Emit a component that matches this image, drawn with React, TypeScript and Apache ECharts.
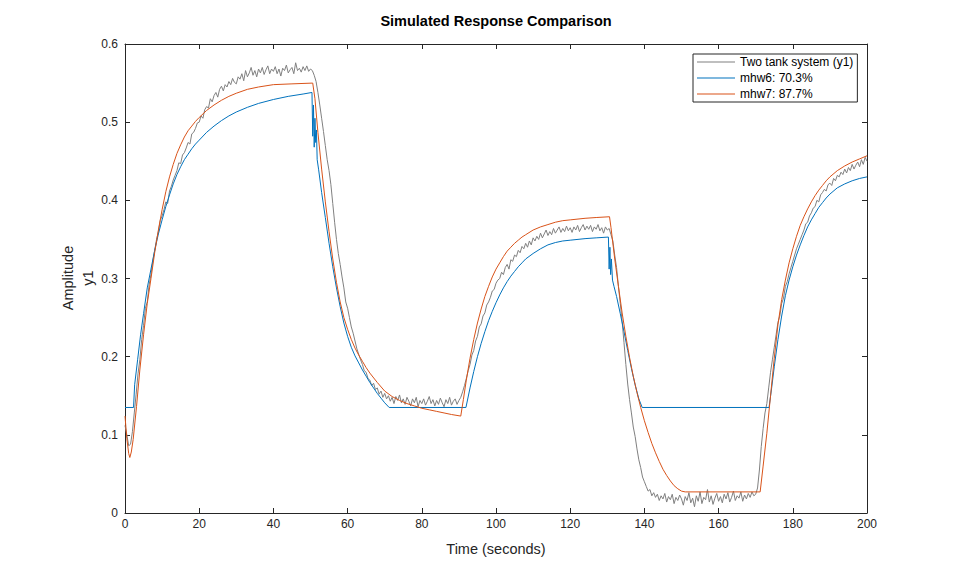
import React, { useEffect, useRef } from "react";
import * as echarts from "echarts";

const chartTitle = "Simulated Response Comparison";
const xAxisName = "Time (seconds)";
const yAxisName = "Amplitude\ny1";
const seriesNames = ["Two tank system (y1)", "mhw6: 70.3%", "mhw7: 87.7%"];
const seriesColors = ["#808080", "#0072BD", "#D95319"];
const xRange = [0, 200];
const xInterval = 20;
const yRange = [0, 0.6];
const yInterval = 0.1;

// measured output, one sample every 0.5 s from t = 0 to t = 200
const measuredStep = 0.5;
const measured = [
  0.112, 0.100, 0.086, 0.088, 0.104, 0.128, 0.152, 0.178, 0.196, 0.222, 0.240, 0.262, 0.270, 0.292, 0.305, 0.322, 0.336, 0.350, 0.360, 0.374,
  0.380, 0.388, 0.398, 0.396, 0.412, 0.418, 0.426, 0.432, 0.438, 0.448, 0.447, 0.458, 0.461, 0.467, 0.474, 0.472, 0.485, 0.487, 0.492, 0.499,
  0.500, 0.508, 0.505, 0.516, 0.520, 0.518, 0.530, 0.526, 0.534, 0.538, 0.532, 0.542, 0.546, 0.540, 0.548, 0.545, 0.552, 0.548, 0.556, 0.551,
  0.549, 0.558, 0.555, 0.562, 0.553, 0.566, 0.558, 0.563, 0.570, 0.560, 0.566, 0.558, 0.568, 0.563, 0.570, 0.561, 0.567, 0.572, 0.562, 0.568,
  0.565, 0.571, 0.562, 0.568, 0.559, 0.569, 0.566, 0.573, 0.563, 0.567, 0.570, 0.562, 0.576, 0.566, 0.569, 0.564, 0.571, 0.566, 0.572, 0.565,
  0.568, 0.566, 0.560, 0.552, 0.538, 0.522, 0.505, 0.488, 0.470, 0.452, 0.438, 0.420, 0.396, 0.372, 0.350, 0.332, 0.318, 0.302, 0.288, 0.270,
  0.262, 0.250, 0.238, 0.230, 0.220, 0.210, 0.203, 0.196, 0.190, 0.182, 0.180, 0.172, 0.170, 0.163, 0.166, 0.158, 0.160, 0.152, 0.156, 0.148,
  0.153, 0.146, 0.150, 0.143, 0.148, 0.140, 0.149, 0.144, 0.151, 0.141, 0.146, 0.139, 0.148, 0.143, 0.137, 0.146, 0.141, 0.148, 0.136, 0.144,
  0.140, 0.146, 0.138, 0.143, 0.149, 0.140, 0.145, 0.137, 0.144, 0.139, 0.147, 0.141, 0.136, 0.145, 0.140, 0.148, 0.138, 0.143, 0.146, 0.139,
  0.144, 0.148, 0.155, 0.163, 0.172, 0.182, 0.190, 0.202, 0.208, 0.220, 0.226, 0.238, 0.242, 0.252, 0.256, 0.266, 0.270, 0.276, 0.284, 0.286,
  0.294, 0.298, 0.300, 0.308, 0.305, 0.314, 0.318, 0.312, 0.324, 0.322, 0.330, 0.328, 0.336, 0.333, 0.341, 0.338, 0.345, 0.340, 0.348, 0.343,
  0.352, 0.348, 0.354, 0.350, 0.358, 0.352, 0.357, 0.362, 0.355, 0.360, 0.356, 0.364, 0.358, 0.362, 0.366, 0.359, 0.364, 0.360, 0.367, 0.361,
  0.365, 0.359, 0.366, 0.362, 0.368, 0.360, 0.365, 0.369, 0.362, 0.367, 0.363, 0.368, 0.360, 0.366, 0.363, 0.369, 0.361, 0.365, 0.358, 0.366,
  0.362, 0.364, 0.356, 0.348, 0.330, 0.314, 0.290, 0.268, 0.245, 0.218, 0.190, 0.165, 0.145, 0.128, 0.110, 0.098, 0.082, 0.068, 0.058, 0.046,
  0.040, 0.034, 0.028, 0.030, 0.022, 0.026, 0.020, 0.024, 0.016, 0.022, 0.018, 0.025, 0.014, 0.021, 0.017, 0.024, 0.012, 0.020, 0.016, 0.023,
  0.018, 0.010, 0.021, 0.016, 0.026, 0.013, 0.019, 0.008, 0.022, 0.015, 0.027, 0.012, 0.020, 0.017, 0.030, 0.014, 0.022, 0.011, 0.019, 0.025,
  0.015, 0.021, 0.013, 0.024, 0.018, 0.026, 0.014, 0.020, 0.028, 0.016, 0.022, 0.019, 0.027, 0.015, 0.023, 0.018, 0.025, 0.020, 0.027, 0.022,
  0.024, 0.032, 0.055, 0.085, 0.108, 0.128, 0.140, 0.160, 0.180, 0.196, 0.212, 0.228, 0.244, 0.252, 0.268, 0.275, 0.290, 0.296, 0.306, 0.314,
  0.322, 0.330, 0.338, 0.344, 0.350, 0.356, 0.362, 0.370, 0.372, 0.380, 0.384, 0.390, 0.392, 0.400, 0.398, 0.407, 0.410, 0.414, 0.412, 0.420,
  0.422, 0.419, 0.428, 0.425, 0.432, 0.430, 0.436, 0.433, 0.440, 0.435, 0.442, 0.438, 0.446, 0.440, 0.445, 0.449, 0.443, 0.452, 0.446, 0.455,
  0.450,
];

// model mhw6 simulated response: [time, value]
const mhw6 = [
  [0, 0.135], [2.3, 0.135], [2.6, 0.164], [3.4, 0.196], [4.2, 0.228], [5, 0.255], [6, 0.288], [7, 0.312], [8, 0.336],
  [9, 0.357], [10, 0.375], [11, 0.392], [12, 0.407], [13, 0.421], [14, 0.433], [15, 0.443], [16, 0.452], [17, 0.459],
  [18, 0.466], [19, 0.472], [20, 0.477], [22, 0.487], [24, 0.495], [26, 0.502], [28, 0.508], [30, 0.513], [33, 0.519],
  [36, 0.524], [40, 0.529], [44, 0.533], [48, 0.536], [50.4, 0.538], [50.6, 0.482], [50.8, 0.522], [51.0, 0.468],
  [51.2, 0.505], [51.4, 0.474], [51.6, 0.490], [51.8, 0.452], [52.2, 0.439], [53, 0.410], [54, 0.378], [55, 0.345],
  [56, 0.315], [57, 0.288], [58, 0.264], [59, 0.243], [60, 0.226], [61, 0.212], [62, 0.201], [63, 0.192], [64, 0.183],
  [65, 0.175], [66, 0.167], [67, 0.160], [68, 0.153], [69, 0.147], [70, 0.141], [71.2, 0.135], [91.9, 0.135],
  [93, 0.160], [94, 0.181], [95, 0.200], [96, 0.217], [97, 0.232], [98, 0.246], [99, 0.258], [100, 0.269], [101, 0.279],
  [102, 0.288], [103, 0.296], [104, 0.303], [105, 0.309], [106, 0.315], [107, 0.320], [108, 0.325], [110, 0.332],
  [112, 0.338], [114, 0.343], [116, 0.346], [118, 0.348], [120, 0.349], [124, 0.351], [127, 0.352], [130.3, 0.353],
  [130.5, 0.312], [130.7, 0.340], [130.9, 0.305], [131.1, 0.325], [131.4, 0.298], [131.8, 0.290], [132.5, 0.277],
  [133.5, 0.255], [134.5, 0.232], [135.5, 0.208], [136.5, 0.185], [137.5, 0.164], [138.5, 0.146], [139.4, 0.135],
  [173.6, 0.135], [174.3, 0.160], [175, 0.187], [176, 0.222], [177, 0.252], [178, 0.278], [179, 0.298], [180, 0.315],
  [181, 0.330], [182, 0.343], [183, 0.355], [184, 0.366], [185, 0.375], [186, 0.383], [187, 0.391], [188, 0.397],
  [189, 0.403], [190, 0.408], [192, 0.416], [194, 0.421], [196, 0.425], [198, 0.428], [200, 0.430],
];

// model mhw7 simulated response: [time, value]
const mhw7 = [
  [0, 0.124], [0.5, 0.095], [1, 0.076], [1.3, 0.071], [1.7, 0.078], [2.2, 0.094], [3.1, 0.136], [4, 0.183], [5, 0.228],
  [6, 0.268], [7, 0.300], [8, 0.333], [9, 0.362], [10, 0.388], [11, 0.411], [12, 0.430], [13, 0.446], [14, 0.460],
  [15, 0.471], [16, 0.481], [17, 0.489], [18, 0.495], [19, 0.501], [20, 0.506], [22, 0.515], [24, 0.522], [26, 0.528],
  [28, 0.533], [30, 0.537], [33, 0.542], [36, 0.545], [40, 0.548], [45, 0.549], [50.6, 0.550], [51.2, 0.530],
  [52, 0.487], [53, 0.440], [54, 0.398], [55, 0.360], [56, 0.325], [57, 0.295], [58, 0.270], [59, 0.250], [60, 0.235],
  [61, 0.222], [62, 0.211], [63, 0.202], [64, 0.194], [65, 0.186], [66, 0.179], [68, 0.167], [70, 0.156], [72, 0.149],
  [74, 0.144], [76, 0.140], [78, 0.137], [80, 0.134], [82, 0.132], [84, 0.130], [86, 0.128], [88, 0.126], [90.5, 0.124],
  [91.2, 0.145], [92, 0.170], [93, 0.198], [94, 0.222], [95, 0.243], [96, 0.261], [97, 0.277], [98, 0.290], [99, 0.302],
  [100, 0.312], [101, 0.320], [102, 0.328], [103, 0.335], [104, 0.340], [105, 0.345], [106, 0.349], [107, 0.353],
  [108, 0.356], [110, 0.362], [112, 0.366], [114, 0.369], [116, 0.372], [118, 0.374], [120, 0.375], [124, 0.377],
  [127, 0.378], [130.6, 0.379], [131, 0.365], [132, 0.325], [133, 0.290], [134, 0.256], [135, 0.226], [136, 0.199],
  [137, 0.175], [138, 0.154], [139, 0.135], [140, 0.118], [141, 0.103], [142, 0.089], [143, 0.077], [144, 0.066],
  [145, 0.056], [146, 0.048], [147, 0.041], [148, 0.035], [149, 0.031], [150, 0.028], [151, 0.027], [171.2, 0.027],
  [172, 0.060], [173, 0.102], [174, 0.150], [175, 0.198], [176, 0.241], [177, 0.273], [178, 0.298], [179, 0.320],
  [180, 0.338], [181, 0.354], [182, 0.368], [183, 0.379], [184, 0.389], [185, 0.398], [186, 0.406], [187, 0.413],
  [188, 0.419], [189, 0.425], [190, 0.430], [192, 0.438], [194, 0.444], [196, 0.449], [198, 0.453], [200, 0.457],
];

const FONT = "Arial, 'Liberation Sans', Helvetica, sans-serif";
const AXIS = "#262626";

function axisCommon(showLabels: boolean) {
  return {
    axisLine: { show: true, onZero: false, lineStyle: { color: AXIS, width: 1 } },
    axisTick: { show: true, inside: true, length: 5, lineStyle: { color: AXIS, width: 1 } },
    splitLine: { show: false },
    axisLabel: { show: showLabels, color: AXIS, fontSize: 12, fontFamily: FONT },
  };
}

export default function App() {
  const ref = useRef<HTMLDivElement>(null);
  useEffect(() => {
    if (!ref.current) return;
    const chart = echarts.init(ref.current, undefined, { renderer: "svg" });
    const xBase = { type: "value", min: xRange[0], max: xRange[1], interval: xInterval };
    const yBase = { type: "value", min: yRange[0], max: yRange[1], interval: yInterval };
    chart.setOption({
      animation: false,
      backgroundColor: "#ffffff",
      grid: { left: 125, right: 92, top: 44, bottom: 64, containLabel: false },
      xAxis: [
        {
          ...xBase,
          position: "bottom",
          ...axisCommon(true),
          axisLabel: { show: true, color: AXIS, fontSize: 12, fontFamily: FONT, margin: 5 },
          name: xAxisName,
          nameLocation: "middle",
          nameGap: 28,
          nameTextStyle: { color: AXIS, fontSize: 14.5, fontFamily: FONT },
        },
        { ...xBase, position: "top", ...axisCommon(false) },
      ],
      yAxis: [
        {
          ...yBase,
          position: "left",
          ...axisCommon(true),
          axisLabel: { show: true, color: AXIS, fontSize: 12, fontFamily: FONT, margin: 7 },
        },
        { ...yBase, position: "right", ...axisCommon(false) },
      ],
      legend: {
        show: true,
        orient: "vertical",
        left: 693,
        top: 54,
        padding: [1, 4, 1, 4],
        itemGap: 2,
        itemWidth: 38,
        itemHeight: 1,
        icon: "rect",
        itemStyle: { borderWidth: 0 },
        backgroundColor: "#ffffff",
        borderColor: "#262626",
        borderWidth: 1,
        borderRadius: 0,
        textStyle: { color: "#000000", fontSize: 12, fontFamily: FONT, lineHeight: 14 },
        data: seriesNames,
      },
      graphic: [
        {
          type: "text",
          x: 496,
          y: 21,
          style: {
            text: chartTitle,
            font: `bold 14.5px ${FONT}`,
            fill: "#000000",
            align: "center",
            verticalAlign: "middle",
          },
        },
        {
          type: "text",
          x: 78,
          y: 278,
          rotation: Math.PI / 2,
          style: {
            text: yAxisName,
            font: `14.5px ${FONT}`,
            fill: AXIS,
            align: "center",
            verticalAlign: "middle",
            lineHeight: 20.5,
          },
        },
      ],
      series: [
        {
          name: seriesNames[0],
          type: "line",
          data: measured.map((v, i) => [i * measuredStep, v]),
          symbol: "none",
          showSymbol: false,
          lineStyle: { color: seriesColors[0], width: 1 },
          itemStyle: { color: seriesColors[0] },
        },
        {
          name: seriesNames[1],
          type: "line",
          data: mhw6,
          symbol: "none",
          showSymbol: false,
          lineStyle: { color: seriesColors[1], width: 1 },
          itemStyle: { color: seriesColors[1] },
        },
        {
          name: seriesNames[2],
          type: "line",
          data: mhw7,
          symbol: "none",
          showSymbol: false,
          lineStyle: { color: seriesColors[2], width: 1 },
          itemStyle: { color: seriesColors[2] },
        },
      ],
    });
    return () => chart.dispose();
  }, []);
  return (
    <div
      ref={ref}
      style={{ position: "fixed", left: 0, top: 0, width: 959, height: 577, background: "#fff" }}
    />
  );
}
